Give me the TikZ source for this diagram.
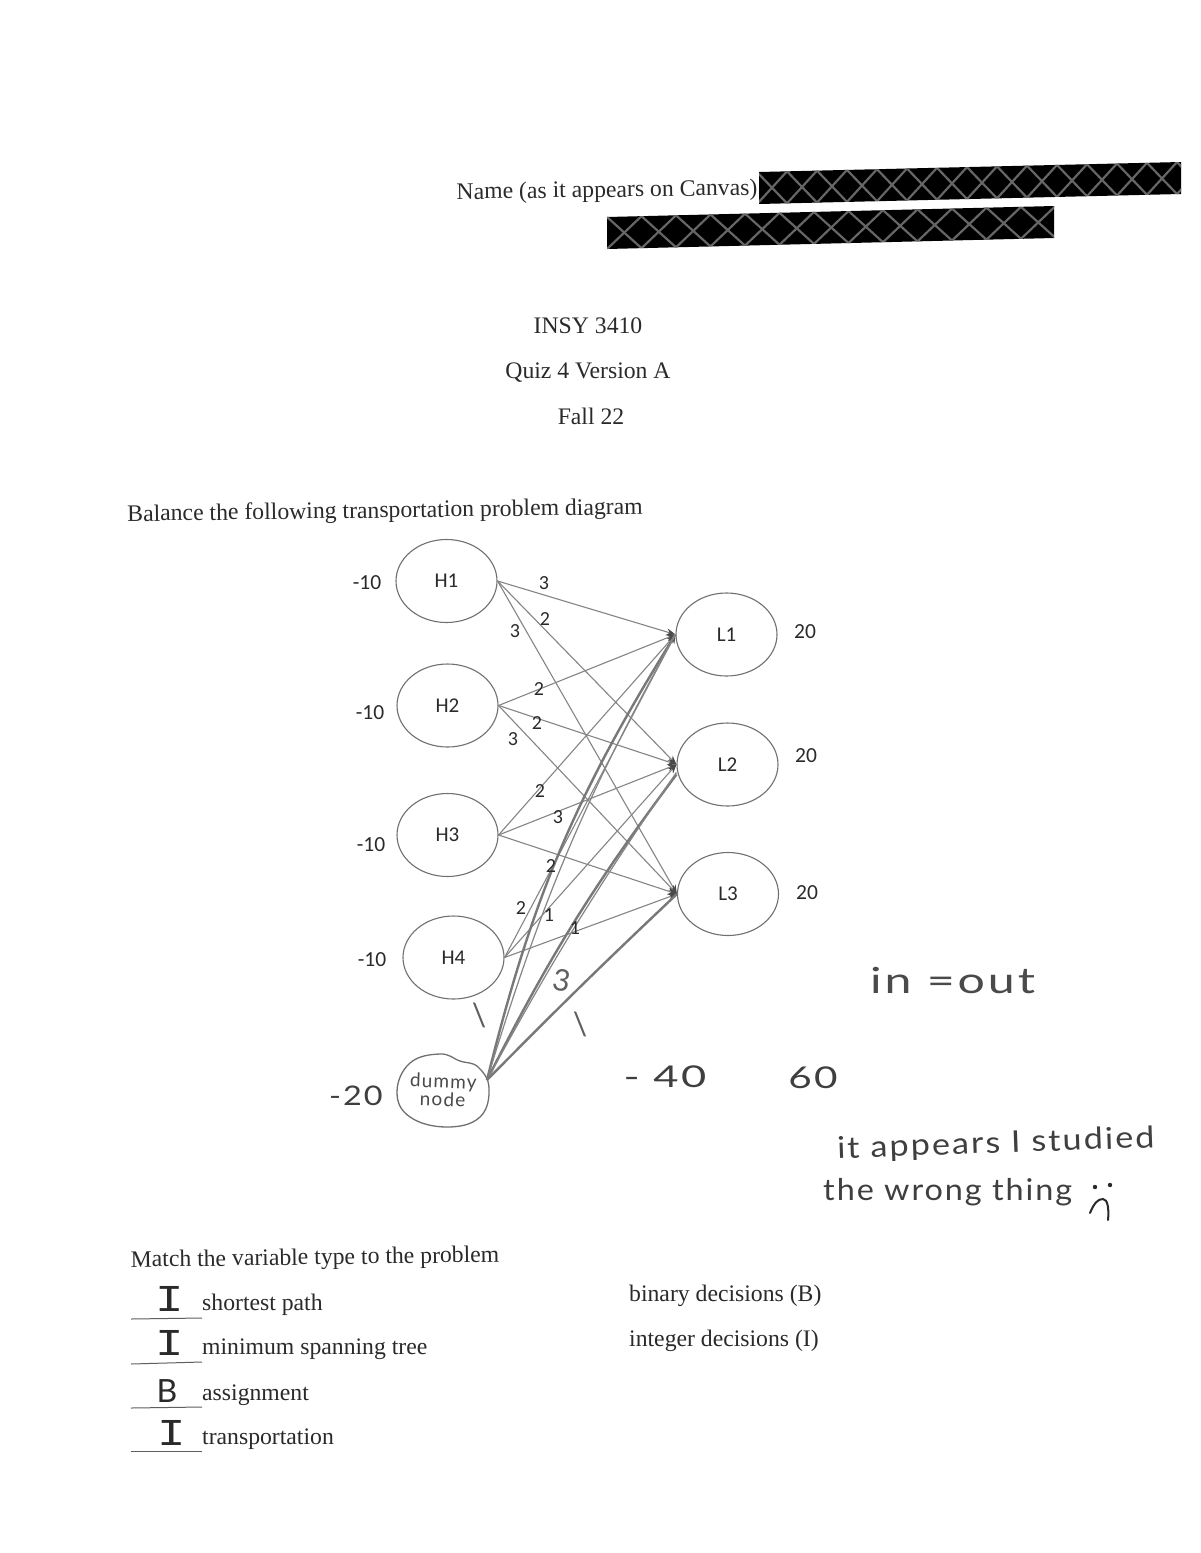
\documentclass[tikz,border=0pt]{standalone}
\usepackage{fontspec}
\usetikzlibrary{arrows.meta,shapes.geometric}
\setmainfont{Liberation Serif}
\newfontfamily\calfont{Carlito}
\newfontfamily\handfont[LetterSpace=6]{Lato}
\newfontfamily\handmono{Liberation Mono}
\definecolor{ink}{HTML}{2A2A2A}
\definecolor{edgegray}{HTML}{858585}
\definecolor{ringgray}{HTML}{707070}
\definecolor{latticegray}{HTML}{666666}
\newcommand{\widen}[2]{\scalebox{#1}[1]{#2}}
\tikzset{
  x=1pt,y=-1pt,
  printed/.style={font=\fontsize{23.7}{25}\selectfont,text=ink,inner sep=0pt},
  printedleft/.style={printed,anchor=west},
  ring/.style={ellipse,draw=ringgray,line width=1.1pt,minimum width=101pt,minimum height=83pt,inner sep=0pt,font=\calfont\fontsize{21}{22}\selectfont,text=ink},
  supply/.style={font=\calfont\fontsize{21.5}{22}\selectfont,text=ink,inner sep=0pt},
  cost/.style={font=\calfont\fontsize{20}{22}\selectfont,text=ink,inner sep=0pt},
  thinedge/.style={draw=edgegray,line width=1.1pt,-{Stealth[length=9pt,width=7pt,color=ink!85]}},
  thickedge/.style={draw=edgegray!90!black,line width=2.4pt},
  thickfine/.style={draw=edgegray,line width=1.2pt},
  hand/.style={font=\handfont\fontsize{36}{38}\selectfont,text=ink!85,inner sep=0pt},
  handsmall/.style={font=\handfont\fontsize{30}{32}\selectfont,text=ink!90,inner sep=0pt},
  handcost/.style={font=\handfont\fontsize{30}{30}\selectfont,text=ink!75,inner sep=0pt},
  handletter/.style={font=\handmono\fontsize{38}{38}\selectfont,text=ink,inner sep=0pt},
  answerline/.style={draw=ink!75,line width=1pt},
  strokeink/.style={draw=ink,line width=2pt,line cap=round},
  lattice/.style={draw=latticegray,line width=2.2pt},
}
\begin{document}
\begin{tikzpicture}
\useasboundingbox (0,0) rectangle (1200,1553);
\fill[white] (0,0) rectangle (1200,1553);

% redaction bands
\begin{scope}[shift={(759,172)},yslant=0.0237]
  \fill[black] (0,0) rectangle (422,32);
  \clip (0,0) rectangle (422,32);
  \foreach \i in {0,...,14}{
    \draw[lattice] ({\i*30-2},0) -- ({\i*30+28},32);
    \draw[lattice] ({\i*30+28},0) -- ({\i*30-2},32);
  }
\end{scope}
\begin{scope}[shift={(607,217)},yslant=0.0246]
  \fill[black] (0,0) rectangle (447,32);
  \clip (0,0) rectangle (447,32);
  \foreach \i in {0,...,13}{
    \draw[lattice] ({\i*34.5},0) -- ({\i*34.5+34.5},32);
    \draw[lattice] ({\i*34.5+34.5},0) -- ({\i*34.5},32);
  }
\end{scope}

% printed header
\node[printed,rotate=0.8] (name) at (607,191.5) {Name (as it appears on Canvas)};
\node[printed] (course) at (588,326) {INSY 3410};
\node[printed] (quiz) at (588,373) {Quiz 4 Version A};
\node[printed] (term) at (591,416) {Fall 22};
\node[printed,rotate=0.8] (balance) at (385,512) {Balance the following transportation problem diagram};

% network nodes
\node[ring] (H1) at (446.5,581) {H1};
\node[ring] (H2) at (447.5,705.5) {H2};
\node[ring] (H3) at (447.5,835) {H3};
\node[ring] (H4) at (453.5,957.5) {H4};
\node[ring] (L1) at (726.5,634.5) {\raisebox{-4pt}{L1}};
\node[ring] (L2) at (727.5,764.5) {\raisebox{-4pt}{L2}};
\node[ring] (L3) at (728,894) {\raisebox{-4pt}{L3}};
\node[inner sep=0pt,align=center,font=\handfont\fontsize{19}{17}\selectfont,text=ink!85,rotate=-2] (D) at (443,1090) {dummy\\node};
\draw[ringgray,line width=1.3pt] plot[smooth cycle,tension=0.7] coordinates {(397,1092) (410,1063) (440,1054) (460,1061) (478,1067) (489,1088) (480,1117) (447,1127) (410,1117)};
\coordinate (Dout) at (487,1080);

% thin edges
\foreach \a in {H1,H2,H3,H4}{
  \foreach \b in {L1,L2,L3}{
    \draw[thinedge] (\a.east) -- (\b.west);
  }
}
% dummy edges
\draw[thickedge] (Dout) to[bend left=9] (L1.west);
\draw[thickfine] (Dout) to[bend left=6] (L1.west);
\draw[thickedge] (Dout) to[bend left=5] ([yshift=-10pt]L2.west);
\draw[thickfine] (Dout) to[bend left=3] ([yshift=-8pt]L2.west);
\draw[thickedge] (Dout) to[bend left=1] (L3.west);

% supply and demand
\node[supply] (s1) at (367,583) {-10};
\node[supply] (s2) at (370,713) {-10};
\node[supply] (s3) at (371,845) {-10};
\node[supply] (s4) at (372,960) {-10};
\node[supply] (d1) at (805,632) {20};
\node[supply] (d2) at (806,756) {20};
\node[supply] (d3) at (807,893) {20};

% costs
\node[cost] (c1) at (544,583) {3};
\node[cost] (c2) at (545,619) {2};
\node[cost] (c3) at (515,631) {3};
\node[cost] (c4) at (539,689) {2};
\node[cost] (c5) at (537,723) {2};
\node[cost] (c6) at (513,739) {3};
\node[cost] (c7) at (540,791) {2};
\node[cost] (c8) at (558,817) {3};
\node[cost] (c9) at (551,866) {2};
\node[cost] (c10) at (521,908) {2};
\node[cost] (c11) at (549,915) {1};
\node[cost] (c12) at (575,928) {1};

% handwritten marks
\node[handcost,rotate=-10] (hc1) at (562,980) {3};
\node[handcost,font=\handfont\fontsize{32}{32}\selectfont] (hc2) at (479,1015) {\textbackslash};
\node[handcost,font=\handfont\fontsize{32}{32}\selectfont] (hc3) at (580,1024) {\textbackslash};
\node[handsmall,font=\handfont\fontsize{27}{28}\selectfont] (hs) at (356,1096) {\widen{1.2}{-20}};
\node[handsmall,font=\handfont\fontsize{30}{30}\selectfont] (h40) at (665,1077) {\widen{1.45}{- 40}};
\node[handsmall,font=\handfont\fontsize{30}{30}\selectfont] (h60) at (813,1078) {\widen{1.35}{60}};
\node[hand,anchor=west] (inout) at (870,980) {\widen{1.34}{in =out}};
\node[handsmall,anchor=west,rotate=2] (n1) at (837,1150) {\widen{1.14}{it appears I studied}};
\node[handsmall,anchor=west] (n2) at (823,1192) {\widen{1.08}{the wrong thing}};
\fill[ink] (1095,1187) circle (2.2) (1110,1185) circle (2.2);
\draw[strokeink] (1090,1213) .. controls (1094,1203) and (1098,1199) .. (1103,1199) .. controls (1108,1199) and (1109,1210) .. (1108,1220);

% matching
\node[printed,rotate=0.8] (match) at (315,1259) {Match the variable type to the problem};
\node[printedleft] (m1) at (202,1305) {shortest path};
\node[printedleft] (m2) at (202,1349) {minimum spanning tree};
\node[printedleft] (m3) at (202,1395) {assignment};
\node[printedleft] (m4) at (202,1439) {transportation};
\node[printedleft] (o1) at (629,1296) {binary decisions (B)};
\node[printedleft] (o2) at (629,1341) {integer decisions (I)};
\coordinate (u1a) at (131,1319); \coordinate (u1b) at (202,1318);
\coordinate (u2a) at (131,1364); \coordinate (u2b) at (202,1362);
\coordinate (u3a) at (131,1408); \coordinate (u3b) at (202,1407);
\coordinate (u4a) at (131,1451); \coordinate (u4b) at (202,1451);
\draw[answerline] (u1a) -- (u1b);
\draw[answerline] (u2a) -- (u2b);
\draw[answerline] (u3a) -- (u3b);
\draw[answerline] (u4a) -- (u4b);
\node[handletter] (a1) at (170,1299) {\widen{1.25}{I}};
\node[handletter] (a2) at (170,1343) {\widen{1.25}{I}};
\node[handletter,font=\handfont\fontsize{32}{32}\selectfont] (a3) at (167,1391) {B};
\node[handletter] (a4) at (172,1433) {\widen{1.25}{I}};
\end{tikzpicture}
\end{document}
